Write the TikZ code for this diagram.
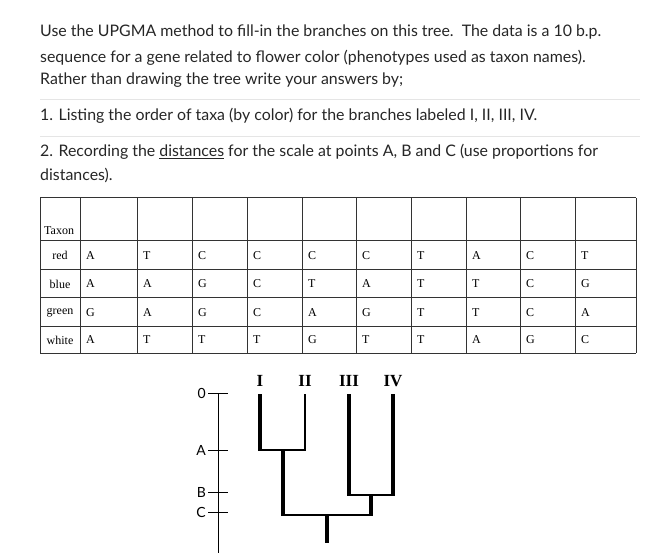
\documentclass[tikz,border=0pt]{standalone}
\usepackage{fontspec}
\setmainfont{Lato}
\newfontfamily\tnr{Liberation Serif}
\begin{document}
\begin{tikzpicture}[x=1pt,y=-1pt,
  para/.style={anchor=base west,inner sep=0,font=\fontsize{15.9}{18}\selectfont,text=black!85},
  cell/.style={anchor=west,inner sep=0,font=\tnr\fontsize{12}{14}\selectfont},
  thick/.style={line width=4pt},
  thin/.style={line width=2pt},
  tick/.style={line width=1pt}]
\useasboundingbox (0,0) rectangle (656,553);
\node[para] (t1) at (40,37) {Use the UPGMA method to fill-in the branches on this tree.\ \ The data is a 10 b.p.};
\node[para] (t2) at (40,63) {sequence for a gene related to flower color (phenotypes used as taxon names).};
\node[para] (t3) at (40,85) {Rather than drawing the tree write your answers by;};
\draw[black!10] (40,99) -- (640,99);
\node[para] (t4) at (40,121) {1. Listing the order of taxa (by color) for the branches labeled I, II, III, IV.};
\draw[black!10] (40,136) -- (640,136);
\node[para] (t5) at (40,157) {2. Recording the \underline{distances} for the scale at points A, B and C (use proportions for};
\node[para] (t6) at (40,181) {distances).};
% table
\def\xs{{40,80,137,192,247,302,356,411,466,520,575,636}}
\def\ys{{198,241,270,298,327,353}}
\foreach \i in {0,...,11}{\pgfmathsetmacro\xx{\xs[\i]}\draw[line width=1pt,black!80] (\xx,198) -- (\xx,353);}
\foreach \j in {0,...,5}{\pgfmathsetmacro\yy{\ys[\j]}\draw[line width=1pt,black!80] (40,\yy) -- (636,\yy);}
\node[cell] (tx) at (44,231) {Taxon};
\foreach \nm/\y [count=\r] in {red/255.5,blue/284,green/312.5,white/340}{
  \node[cell,anchor=center] (n\r) at (60,\y) {\nm};}
\foreach \seq/\y [count=\r] in {{A,T,C,C,C,C,T,A,C,T}/255.5,{A,A,G,C,T,A,T,T,C,G}/284,{G,A,G,C,A,G,T,T,C,A}/312.5,{A,T,T,T,G,T,T,A,G,C}/340}{
  \foreach \c [count=\k] in \seq {\pgfmathsetmacro\xx{\xs[\k]+6}\node[cell] (c\r-\k) at (\xx,\y) {\c};}}
% scale
\coordinate (s0) at (218,393); \coordinate (send) at (218,553);
\draw[tick] (s0) -- (send);
\foreach \l/\y in {0/393,A/450,B/492,C/512}{
  \draw[tick] (208,\y) -- (228,\y);
  \node[anchor=east,inner sep=0,font=\fontsize{14}{16}\selectfont] (L\l) at (206,\y) {\l};}
% tree
\foreach \l/\x in {I/260,II/305,III/349,IV/393}
  \node[font=\tnr\bfseries\fontsize{17}{19}\selectfont,inner sep=0] (lab\l) at (\x,381) {\l};
\draw[thick] (260,394) -- (260,451);
\draw[thin] (305,394) -- (305,451);
\draw[line width=2.5pt] (259,450) -- (306,450);
\draw[thick] (283,450) -- (283,516);
\draw[thick] (349,394) -- (349,496);
\draw[thick] (393,394) -- (393,496);
\draw[line width=2.5pt] (348,495) -- (394,495);
\draw[thick] (371,495) -- (371,516);
\draw[line width=2.5pt] (282,515) -- (372,515);
\draw[thick] (327,515) -- (327,543);
\end{tikzpicture}
\end{document}
